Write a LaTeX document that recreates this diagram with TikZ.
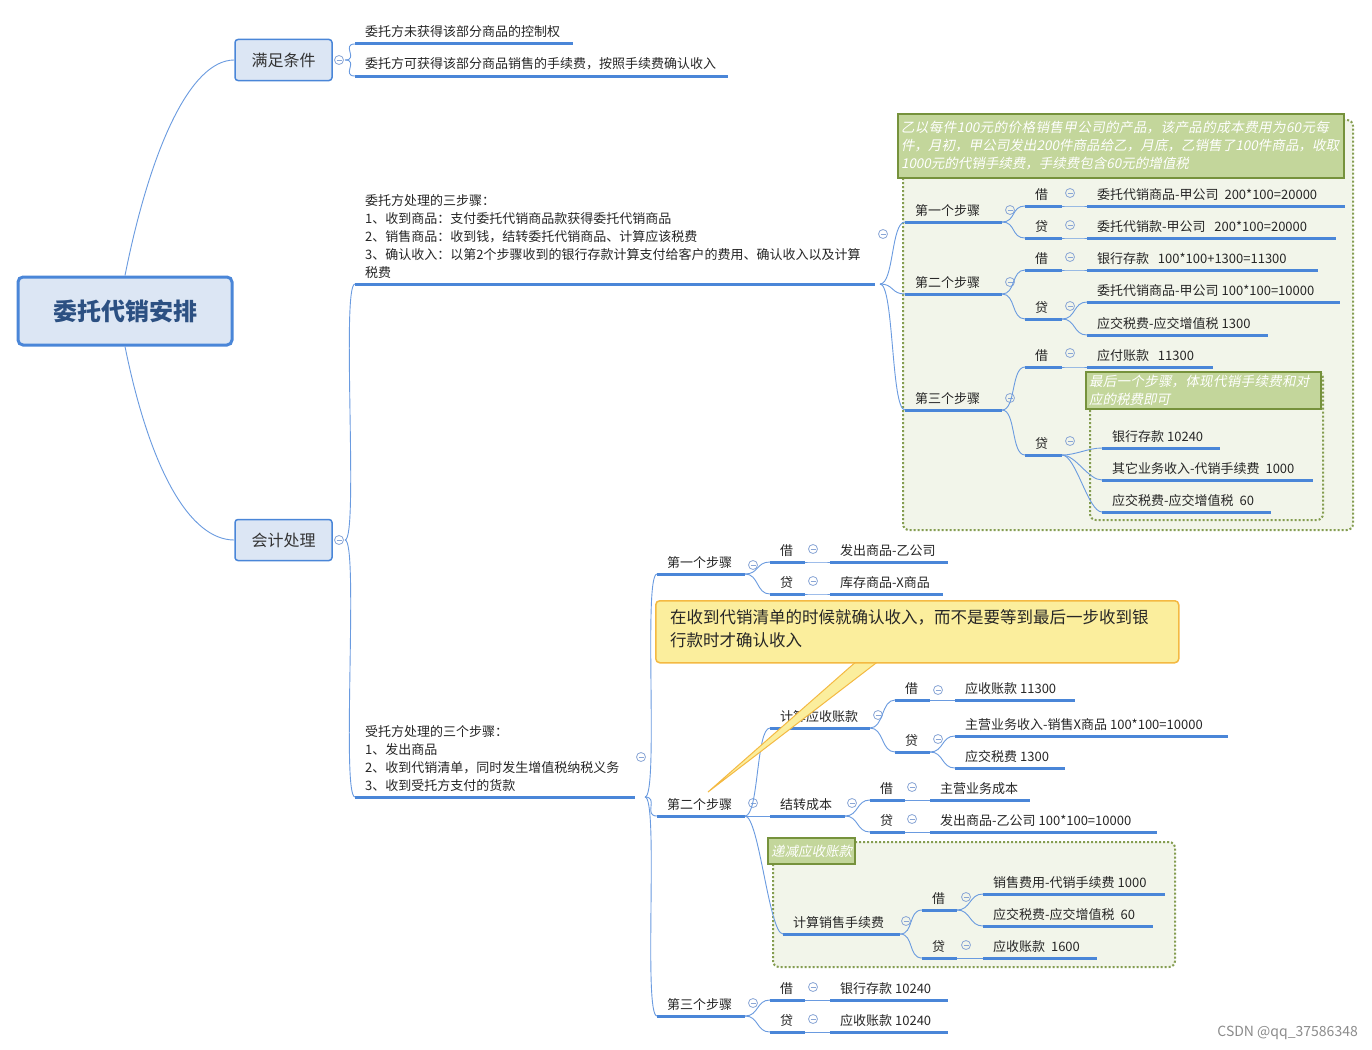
\documentclass[tikz,border=0pt]{standalone}
\usepackage{fontspec}
\setmainfont{Noto Sans CJK SC}
\newfontfamily\noteit{Noto Sans CJK SC}[FakeSlant=0.2]
\XeTeXlinebreaklocale "zh"
\XeTeXlinebreakskip=0pt plus 1pt
\definecolor{ulc}{HTML}{4A86D8}
\definecolor{cnc}{HTML}{6A9BE0}
\definecolor{cmc}{HTML}{8AA6D6}
\definecolor{gfill}{HTML}{F2F5EA}
\definecolor{gline}{HTML}{76923C}
\definecolor{nfill}{HTML}{C3D69B}
\definecolor{yfill}{HTML}{FBEE9D}
\definecolor{yline}{HTML}{F4B942}
\definecolor{bfill}{HTML}{DCE6F4}
\tikzset{
 ul/.style={ulc,line width=3pt},
 cn/.style={cnc,line width=0.9pt},
 cmk/.style={cmc,line width=0.8pt},
 txt/.style={font=\fontsize{13}{15}\selectfont,inner sep=0pt,text=black!85},
 bbox/.style={draw=ulc,fill=bfill,line width=1.5pt,rounded corners=3pt,font=\fontsize{16}{19}\selectfont,text=black!80},
 dbox/.style={draw=gline!90,fill=gfill,line width=2pt,dash pattern=on 2pt off 2pt,rounded corners=6pt},
 nbox/.style={draw=gline,fill=nfill,line width=2pt,font=\noteit\fontsize{13.5}{18}\selectfont,text=white,align=left,inner sep=3pt,anchor=north west},
}
\newcommand\ul[5]{\coordinate (#1-l) at (#2,#4); \coordinate (#1-r) at (#3,#4);
 \draw[ul] (#1-l)--(#1-r); \node[txt,anchor=base west] (#1) at (#2+10,#4-7) {#5};}
\newcommand\cm[2]{\draw[cmk] (#1,#2) circle (4.5); \draw[cmk] (#1-2.5,#2)--(#1+2.5,#2);}
\newcommand\conn[2]{\draw[cn] (#1-r) .. controls +(14,0) and +(-14,0) .. (#2-l);}
\begin{document}
\begin{tikzpicture}[x=1pt,y=-1pt]
\useasboundingbox[fill=white] (0,0) rectangle (1372,1049);
% panels
\draw[dbox] (903,120) rectangle (1353,530);
\node[nbox,text width=440,minimum height=64] (note1) at (897,113) {乙以每件100元的价格销售甲公司的产品，该产品的成本费用为60元每件，月初，甲公司发出200件商品给乙，月底，乙销售了100件商品，收取1000元的代销手续费，手续费包含60元的增值税};
\draw[dbox] (1090,372) rectangle (1323,520);
\node[nbox,text width=229] (note2) at (1085,371) {最后一个步骤，体现代销手续费和对应的税费即可};
\draw[dbox] (773,842) rectangle (1175,967);
\node[nbox,minimum height=26] (note3) at (767,837) {递减应收账款};
% root
\node[draw=ulc,fill=bfill,line width=3pt,rounded corners=5pt,minimum width=214,minimum height=68,font=\bfseries\fontsize{24}{28}\selectfont,text=ulc!60!black] (root) at (125,311) {委托代销安排};
\node[bbox,minimum width=97,minimum height=41] (mz) at (283.5,60) {满足条件};
\node[bbox,minimum width=97,minimum height=41] (kj) at (283.5,540) {会计处理};
\draw[cn] (root.north) .. controls (150,150) and (190,60) .. (mz.west);
\draw[cn] (root.south) .. controls (150,470) and (190,540) .. (kj.west);
\cm{339}{60} \cm{339}{540}
\coordinate (mz-r) at (345,60); \coordinate (kj-r) at (345,540);
\ul{m1}{355}{573}{44}{委托方未获得该部分商品的控制权}
\ul{m2}{355}{728}{76}{委托方可获得该部分商品销售的手续费，按照手续费确认收入}
\conn{mz}{m1}\conn{mz}{m2}
% A
\coordinate (A-l) at (355,284); \coordinate (A-r) at (880,284);
\draw[ul] (355,284)--(875,284);
\node[txt,anchor=south west,align=left,font=\fontsize{13}{18}\selectfont] (A) at (365,279) {委托方处理的三步骤：\\1、收到商品：支付委托代销商品款获得委托代销商品\\2、销售商品：收到钱，结转委托代销商品、计算应该税费\\3、确认收入：以第2个步骤收到的银行存款计算支付给客户的费用、确认收入以及计算\\税费};
\cm{883}{234}
\coordinate (B-l) at (355,797); \coordinate (B-r) at (645,797);
\draw[ul] (355,797)--(635,797);
\node[txt,anchor=south west,align=left,font=\fontsize{13}{18}\selectfont] (B) at (365,792) {受托方处理的三个步骤：\\1、发出商品\\2、收到代销清单，同时发生增值税纳税义务\\3、收到受托方支付的货款};
\cm{641}{757}
\conn{kj}{A}\conn{kj}{B}
% right panel steps
\ul{r1}{905}{1002}{222}{第一个步骤}\cm{1010}{210}
\ul{r2}{905}{1002}{294}{第二个步骤}\cm{1010}{282}
\ul{r3}{905}{1002}{410}{第三个步骤}\cm{1010}{398}
\conn{A}{r1}\conn{A}{r2}\conn{A}{r3}
\ul{r1j}{1025}{1062}{206}{借}\cm{1070}{193}
\ul{r1d}{1025}{1062}{238}{贷}\cm{1070}{225}
\conn{r1}{r1j}\conn{r1}{r1d}
\ul{r1ja}{1087}{1345}{206}{委托代销商品-甲公司\ \ 200*100=20000}
\ul{r1da}{1087}{1336}{238}{委托代销款-甲公司\ \ \ 200*100=20000}
\conn{r1j}{r1ja}\conn{r1d}{r1da}
\ul{r2j}{1025}{1062}{270}{借}\cm{1070}{257}
\ul{r2d}{1025}{1062}{319}{贷}\cm{1070}{306}
\conn{r2}{r2j}\conn{r2}{r2d}
\ul{r2ja}{1087}{1318}{270}{银行存款\ \ \ 100*100+1300=11300}
\ul{r2da}{1087}{1340}{302}{委托代销商品-甲公司 100*100=10000}
\ul{r2db}{1087}{1268}{335}{应交税费-应交增值税 1300}
\conn{r2j}{r2ja}\conn{r2d}{r2da}\conn{r2d}{r2db}
\ul{r3j}{1025}{1062}{367}{借}\cm{1070}{353}
\ul{r3d}{1025}{1062}{455}{贷}\cm{1070}{441}
\conn{r3}{r3j}\conn{r3}{r3d}
\ul{r3ja}{1087}{1213}{367}{应付账款\ \ \ 11300}
\conn{r3j}{r3ja}
\ul{r3da}{1102}{1220}{448}{银行存款 10240}
\ul{r3db}{1102}{1313}{480}{其它业务收入-代销手续费\ \ 1000}
\ul{r3dc}{1102}{1271}{512}{应交税费-应交增值税\ \ 60}
\conn{r3d}{r3da}\conn{r3d}{r3db}\conn{r3d}{r3dc}
% left bottom
\ul{b1}{657}{745}{574}{第一个步骤}\cm{753}{565}
\ul{b2}{657}{745}{816}{第二个步骤}\cm{753}{803}
\ul{b3}{657}{745}{1016}{第三个步骤}\cm{753}{1003}
\conn{B}{b1}\conn{B}{b2}\conn{B}{b3}
\ul{b1j}{770}{805}{562}{借}\cm{813}{549}
\ul{b1d}{770}{805}{594}{贷}\cm{813}{581}
\conn{b1}{b1j}\conn{b1}{b1d}
\ul{b1ja}{830}{948}{562}{发出商品-乙公司}
\ul{b1da}{830}{943}{594}{库存商品-X商品}
\conn{b1j}{b1ja}\conn{b1d}{b1da}
\ul{c1}{770}{870}{728}{计算应收账款}\cm{878}{715}
\ul{c2}{770}{845}{816}{结转成本}\cm{852}{803}
\ul{c3}{783}{900}{934}{计算销售手续费}\cm{906}{921}
\conn{b2}{c1}\conn{b2}{c2}\conn{b2}{c3}
\ul{c1j}{895}{930}{700}{借}\cm{938}{690}
\ul{c1d}{895}{930}{752}{贷}\cm{938}{739}
\conn{c1}{c1j}\conn{c1}{c1d}
\ul{c1ja}{955}{1075}{700}{应收账款 11300}
\ul{c1da}{955}{1228}{736}{主营业务收入-销售X商品 100*100=10000}
\ul{c1db}{955}{1065}{768}{应交税费 1300}
\conn{c1j}{c1ja}\conn{c1d}{c1da}\conn{c1d}{c1db}
\ul{c2j}{870}{905}{800}{借}\cm{912}{787}
\ul{c2d}{870}{905}{832}{贷}\cm{912}{819}
\conn{c2}{c2j}\conn{c2}{c2d}
\ul{c2ja}{930}{1030}{800}{主营业务成本}
\ul{c2da}{930}{1157}{832}{发出商品-乙公司 100*100=10000}
\conn{c2j}{c2ja}\conn{c2d}{c2da}
\ul{c3j}{922}{957}{910}{借}\cm{966}{897}
\ul{c3d}{922}{957}{958}{贷}\cm{966}{945}
\conn{c3}{c3j}\conn{c3}{c3d}
\ul{c3ja}{983}{1165}{894}{销售费用-代销手续费 1000}
\ul{c3jb}{983}{1153}{926}{应交税费-应交增值税\ \ 60}
\ul{c3da}{983}{1097}{958}{应收账款\ \ 1600}
\conn{c3j}{c3ja}\conn{c3j}{c3jb}\conn{c3d}{c3da}
\ul{b3j}{770}{805}{1000}{借}\cm{813}{987}
\ul{b3d}{770}{805}{1032}{贷}\cm{813}{1019}
\conn{b3}{b3j}\conn{b3}{b3d}
\ul{b3ja}{830}{948}{1000}{银行存款 10240}
\ul{b3da}{830}{948}{1032}{应收账款 10240}
\conn{b3j}{b3ja}\conn{b3d}{b3da}
% callout
\coordinate (tip) at (708,792);
\draw[yline,fill=yfill,line width=1pt] (858,660)--(880,660)--(tip)--cycle;
\node[draw=yline,fill=yfill,line width=1.5pt,rounded corners=4pt,minimum width=523,minimum height=62,anchor=north west,inner sep=0pt] (call) at (655,600) {};
\node[anchor=north west,align=left,font=\fontsize{16.5}{23}\selectfont,inner sep=0pt,text=black!85] (callt) at (670,609) {在收到代销清单的时候就确认收入，而不是要等到最后一步收到银\\行款时才确认收入};
\node[anchor=base east,font=\fontsize{14}{16}\selectfont,text=black!45,inner sep=0pt] (wm) at (1358,1036) {CSDN @qq\_37586348};
\end{tikzpicture}
\end{document}
